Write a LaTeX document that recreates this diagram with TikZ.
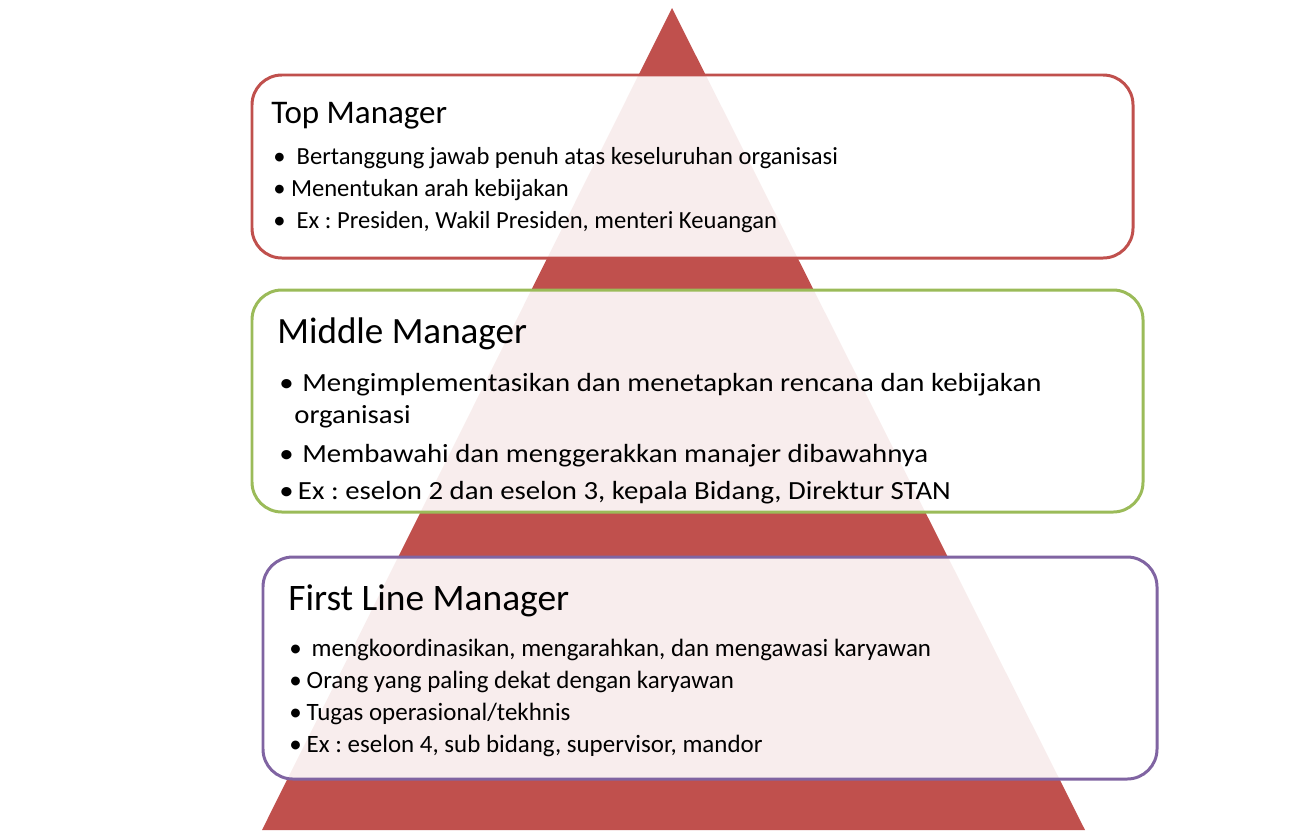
\documentclass[tikz,border=0pt]{standalone}
\usepackage{fontspec}
\setmainfont{Carlito}
\frenchspacing
\usetikzlibrary{positioning}
\definecolor{pyramidred}{HTML}{C0504D}
\definecolor{topred}{HTML}{C0504D}
\definecolor{midgreen}{HTML}{9BBB59}
\definecolor{lowpurple}{HTML}{8064A2}
% middle level text is a bit wider than its height
\newcommand{\widetext}[1]{\scalebox{1.1}[1]{#1}}

\begin{document}
\begin{tikzpicture}[x=0.02cm, y=-0.02cm,
  box/.style={line width=1.7pt, rounded corners=17pt, fill=white, fill opacity=0.9},
  head/.style={anchor=base west, inner sep=0pt, font=\fontsize{#1}{#1}\selectfont},
  item/.style={anchor=base west, inner sep=0pt, font=\fontsize{#1}{#1}\selectfont}]
  \useasboundingbox (0,0) rectangle (1314,836);

  % pyramid behind the boxes
  \fill[pyramidred] (672,8) -- (1085,830) -- (262,830) -- cycle;

  % three levels
  \draw[box, draw=topred]    (252,75)  rectangle (1133,258);
  \draw[box, draw=midgreen]  (252,290) rectangle (1143,512);
  \draw[box, draw=lowpurple] (263,557) rectangle (1157,779);

  % top level
  \node[head=18.8pt] (toptitle) at (271,123) {Top Manager};
  \node[item=14pt] (top1) at (273,164) {\textbullet\hspace{0.45em}Bertanggung jawab penuh atas keseluruhan organisasi};
  \node[item=14pt] (top2) at (273,196) {\textbullet\hspace{0.22em}Menentukan arah kebijakan};
  \node[item=14pt] (top3) at (273,228) {\textbullet\hspace{0.45em}Ex : Presiden, Wakil Presiden, menteri Keuangan};

  % middle level
  \node[head=21.1pt] (midtitle) at (277,343) {Middle Manager};
  \node[item=14.9pt] (mid1) at (279,391) {\widetext{\textbullet\hspace{0.3em}Mengimplementasikan dan menetapkan rencana dan kebijakan}};
  \node[item=14.9pt] (mid2) at (294,423) {\widetext{organisasi}};
  \node[item=14.9pt] (mid3) at (279,462) {\widetext{\textbullet\hspace{0.3em}Membawahi dan menggerakkan manajer dibawahnya}};
  \node[item=14.9pt] (mid4) at (279,499) {\widetext{\textbullet\hspace{0.15em}Ex : eselon 2 dan eselon 3, kepala Bidang, Direktur STAN}};

  % first line level
  \node[head=21.3pt] (lowtitle) at (288,610) {First Line Manager};
  \node[item=14.2pt] (low1) at (289,656) {\textbullet\hspace{0.4em}mengkoordinasikan, mengarahkan, dan mengawasi karyawan};
  \node[item=14.2pt] (low2) at (289,688) {\textbullet\hspace{0.2em}Orang yang paling dekat dengan karyawan};
  \node[item=14.2pt] (low3) at (289,720) {\textbullet\hspace{0.2em}Tugas operasional/tekhnis};
  \node[item=14.2pt] (low4) at (289,752) {\textbullet\hspace{0.2em}Ex : eselon 4, sub bidang, supervisor, mandor};
\end{tikzpicture}
\end{document}
